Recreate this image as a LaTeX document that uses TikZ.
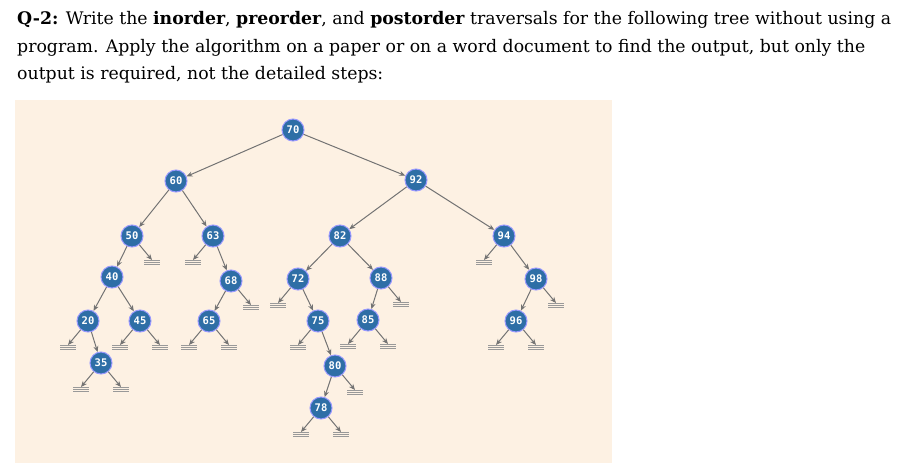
\documentclass[tikz,border=0pt]{standalone}
\usepackage{fontspec}
\setmainfont{DejaVu Serif}
\newfontfamily\nodefont{DejaVu Sans Mono}
\usetikzlibrary{arrows.meta}
\definecolor{bgpeach}{RGB}{253,241,227}
\definecolor{nodeblue}{RGB}{46,110,166}
\begin{document}
\begin{tikzpicture}[x=1pt,y=-1pt,
  tn/.style={circle,draw=white!60!blue,line width=1pt,fill=nodeblue,text=white,minimum size=22pt,inner sep=0pt,font=\nodefont\bfseries\fontsize{10.5}{10.5}\selectfont},
  ed/.style={draw=black!55,line width=1pt,-{Stealth[length=6pt,width=5pt,fill=black]}},
  ln/.style={anchor=base west,inner sep=0pt,font=\fontsize{17.3}{20}\selectfont}]
\useasboundingbox (0,0) rectangle (915,471);
\fill[white] (0,0) rectangle (915,471);
\node[ln] (t1) at (17,24) {\textbf{Q-2:} Write the \textbf{inorder}, \textbf{preorder}, and \textbf{postorder} traversals for the following tree without using a};
\node[ln] (t2) at (17,52) {program. Apply the algorithm on a paper or on a word document to find the output, but only the};
\node[ln] (t3) at (17,79) {output is required, not the detailed steps:};
\fill[bgpeach] (15,100) rectangle (612,463);
\foreach \n/\x/\y in {70/293/130,60/176/181,92/416/180,50/132/236,63/213/236,82/340/236,94/504/236,
  40/112/277,68/231/281,72/298/279,88/381/278,98/536/279,20/88/321,45/140/321,65/209/321,
  75/318/321,85/368/320,96/516/321,35/101/363,80/335/366,78/321/408}
  \node[tn] (n\n) at (\x,\y) {\n};
\foreach \a/\b in {70/60,70/92,60/50,60/63,92/82,92/94,50/40,63/68,82/72,82/88,94/98,
  40/20,40/45,68/65,72/75,88/85,98/96,20/35,75/80,80/78}
  \draw[ed] (n\a) -- (n\b);
\foreach \p/\s/\i in {50/1/a,63/-1/b,68/1/c,94/-1/d,98/1/e,96/-1/f,96/1/g,72/-1/h,88/1/i,85/-1/j,85/1/k,
  75/-1/l,80/1/m,78/-1/n,78/1/o,20/-1/p,35/-1/q,35/1/r,45/-1/s,45/1/t,65/-1/u,65/1/v}{
  \coordinate (g\i) at ([shift={(\s*20,24)}]n\p.center);
  \draw[ed] (n\p) -- (g\i);
  \foreach \k in {0,2,4}
    \draw[black!40,line width=0.7pt] ([shift={(-8,\k)}]g\i) -- ([shift={(8,\k)}]g\i);
}
\end{tikzpicture}
\end{document}
